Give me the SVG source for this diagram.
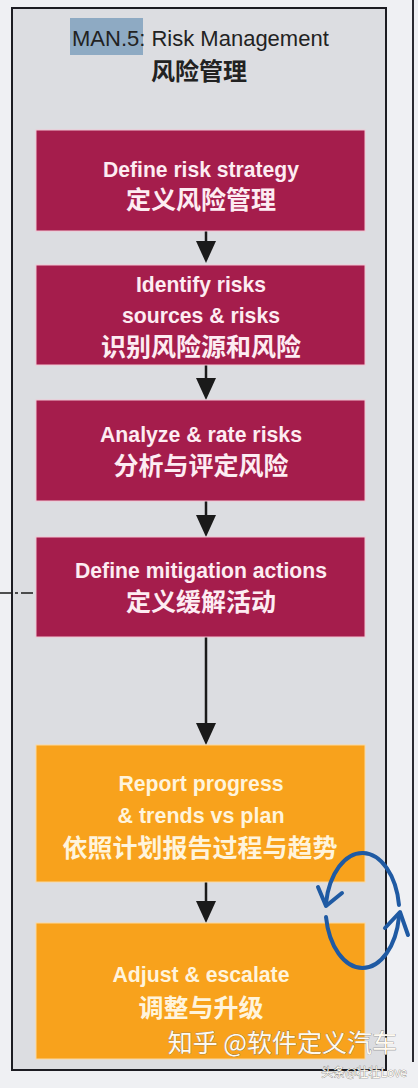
<svg xmlns="http://www.w3.org/2000/svg" width="418" height="1088" viewBox="0 0 418 1088">
  <defs>
    <style>
      .frame { fill: none; stroke: #1c1c22; stroke-width: 2; }
      .red { fill: #a51d4c; stroke: #f2c6d3; stroke-width: 1; }
      .orange { fill: #f8a21c; stroke: #fbd9a0; stroke-width: 1; }
      .en { font-family: "Liberation Sans", Arial, sans-serif; font-weight: bold; font-size: 22px; text-anchor: middle; }
      .cn { font-family: "Noto Sans CJK SC", "Liberation Sans", sans-serif; font-weight: bold; font-size: 25px; text-anchor: middle; }
      .onred { fill: #fdecf2; }
      .onorange { fill: #fff4dc; }
      .conn { stroke: #1a1a1a; stroke-width: 2.5; fill: none; }
      .cycle { stroke: #1f5aa3; stroke-width: 4; fill: none; stroke-linecap: round; stroke-linejoin: round; }
      .wm { font-family: "Noto Sans CJK SC", sans-serif; fill: #fffaf0; stroke: #6d6d6d; stroke-width: 0.6; paint-order: stroke; }
    </style>
    <marker id="ah" viewBox="0 0 22 20" markerUnits="userSpaceOnUse" markerWidth="22" markerHeight="20" refX="12" refY="10" orient="auto">
      <path d="M0,0 L22,10 L0,20 Z" fill="#1a1a1a"/>
    </marker>
  </defs>

  <rect x="0" y="0" width="418" height="1088" fill="#eff0f3"/>
  <rect x="12" y="8" width="374" height="1062" fill="#dcdde1"/>
  <rect x="12" y="8" width="374" height="1062" class="frame"/>
  <line x1="413" y1="0" x2="413" y2="1062" stroke="#2a2a30" stroke-width="2"/>

  <g id="title">
    <rect x="70" y="18" width="73" height="37" fill="#8eaac3"/>
    <text x="72" y="46" font-family="Liberation Sans, Arial, sans-serif" font-size="22" fill="#222">MAN.5: Risk Management</text>
    <text x="199" y="80" font-family="Noto Sans CJK SC, sans-serif" font-size="24" font-weight="bold" fill="#222" text-anchor="middle">风险管理</text>
  </g>

  <g id="connectors">
    <line class="conn" x1="206" y1="231" x2="206" y2="253" marker-end="url(#ah)"/>
    <line class="conn" x1="206" y1="365" x2="206" y2="390" marker-end="url(#ah)"/>
    <line class="conn" x1="206" y1="501" x2="206" y2="527" marker-end="url(#ah)"/>
    <line class="conn" x1="206" y1="637" x2="206" y2="735" marker-end="url(#ah)"/>
    <line class="conn" x1="206" y1="882" x2="206" y2="913" marker-end="url(#ah)"/>
    <line x1="0" y1="593" x2="37" y2="593" stroke="#1a1a1a" stroke-width="1.5" stroke-dasharray="12,3,3,3"/>
  </g>

  <g id="node1">
    <rect class="red" x="36" y="130" width="329" height="101"/>
    <text class="en onred" x="201" y="177" textLength="196" lengthAdjust="spacingAndGlyphs">Define risk strategy</text>
    <text class="cn onred" x="201" y="209">定义风险管理</text>
  </g>

  <g id="node2">
    <rect class="red" x="36" y="265" width="329" height="100"/>
    <text class="en onred" x="201" y="292" textLength="130" lengthAdjust="spacingAndGlyphs">Identify risks</text>
    <text class="en onred" x="201" y="323" textLength="158" lengthAdjust="spacingAndGlyphs">sources &amp; risks</text>
    <text class="cn onred" x="201" y="356">识别风险源和风险</text>
  </g>

  <g id="node3">
    <rect class="red" x="36" y="400" width="329" height="101"/>
    <text class="en onred" x="201" y="442" textLength="202" lengthAdjust="spacingAndGlyphs">Analyze &amp; rate risks</text>
    <text class="cn onred" x="201" y="475">分析与评定风险</text>
  </g>

  <g id="node4">
    <rect class="red" x="36" y="537" width="329" height="100"/>
    <text class="en onred" x="201" y="578" textLength="252" lengthAdjust="spacingAndGlyphs">Define mitigation actions</text>
    <text class="cn onred" x="201" y="611">定义缓解活动</text>
  </g>

  <g id="node5">
    <rect class="orange" x="36" y="745" width="329" height="137"/>
    <text class="en onorange" x="201" y="791" textLength="165" lengthAdjust="spacingAndGlyphs">Report progress</text>
    <text class="en onorange" x="201" y="823" textLength="167" lengthAdjust="spacingAndGlyphs">&amp; trends vs plan</text>
    <text class="cn onorange" x="200" y="857" font-size="26">依照计划报告过程与趋势</text>
  </g>

  <g id="node6">
    <rect class="orange" x="36" y="923" width="329" height="136"/>
    <text class="en onorange" x="201" y="982" textLength="177" lengthAdjust="spacingAndGlyphs">Adjust &amp; escalate</text>
    <text class="cn onorange" x="201" y="1017">调整与升级</text>
  </g>

  <g id="cycle">
    <path class="cycle" d="M399,905 A37,61 0 0 0 326,903"/>
    <polyline class="cycle" points="318,887 326,906 342,893"/>
    <path class="cycle" d="M326,917 A37,61 0 0 0 399,917"/>
    <polyline class="cycle" points="385,928 400,912 408,935"/>
  </g>

  <g id="watermark">
    <text class="wm" x="397" y="1052" font-size="25" text-anchor="end">知乎 @软件定义汽车</text>
    <text class="wm" x="407" y="1077" font-size="12" text-anchor="end" stroke-width="0.4">头条@壮壮Love</text>
  </g>
</svg>
